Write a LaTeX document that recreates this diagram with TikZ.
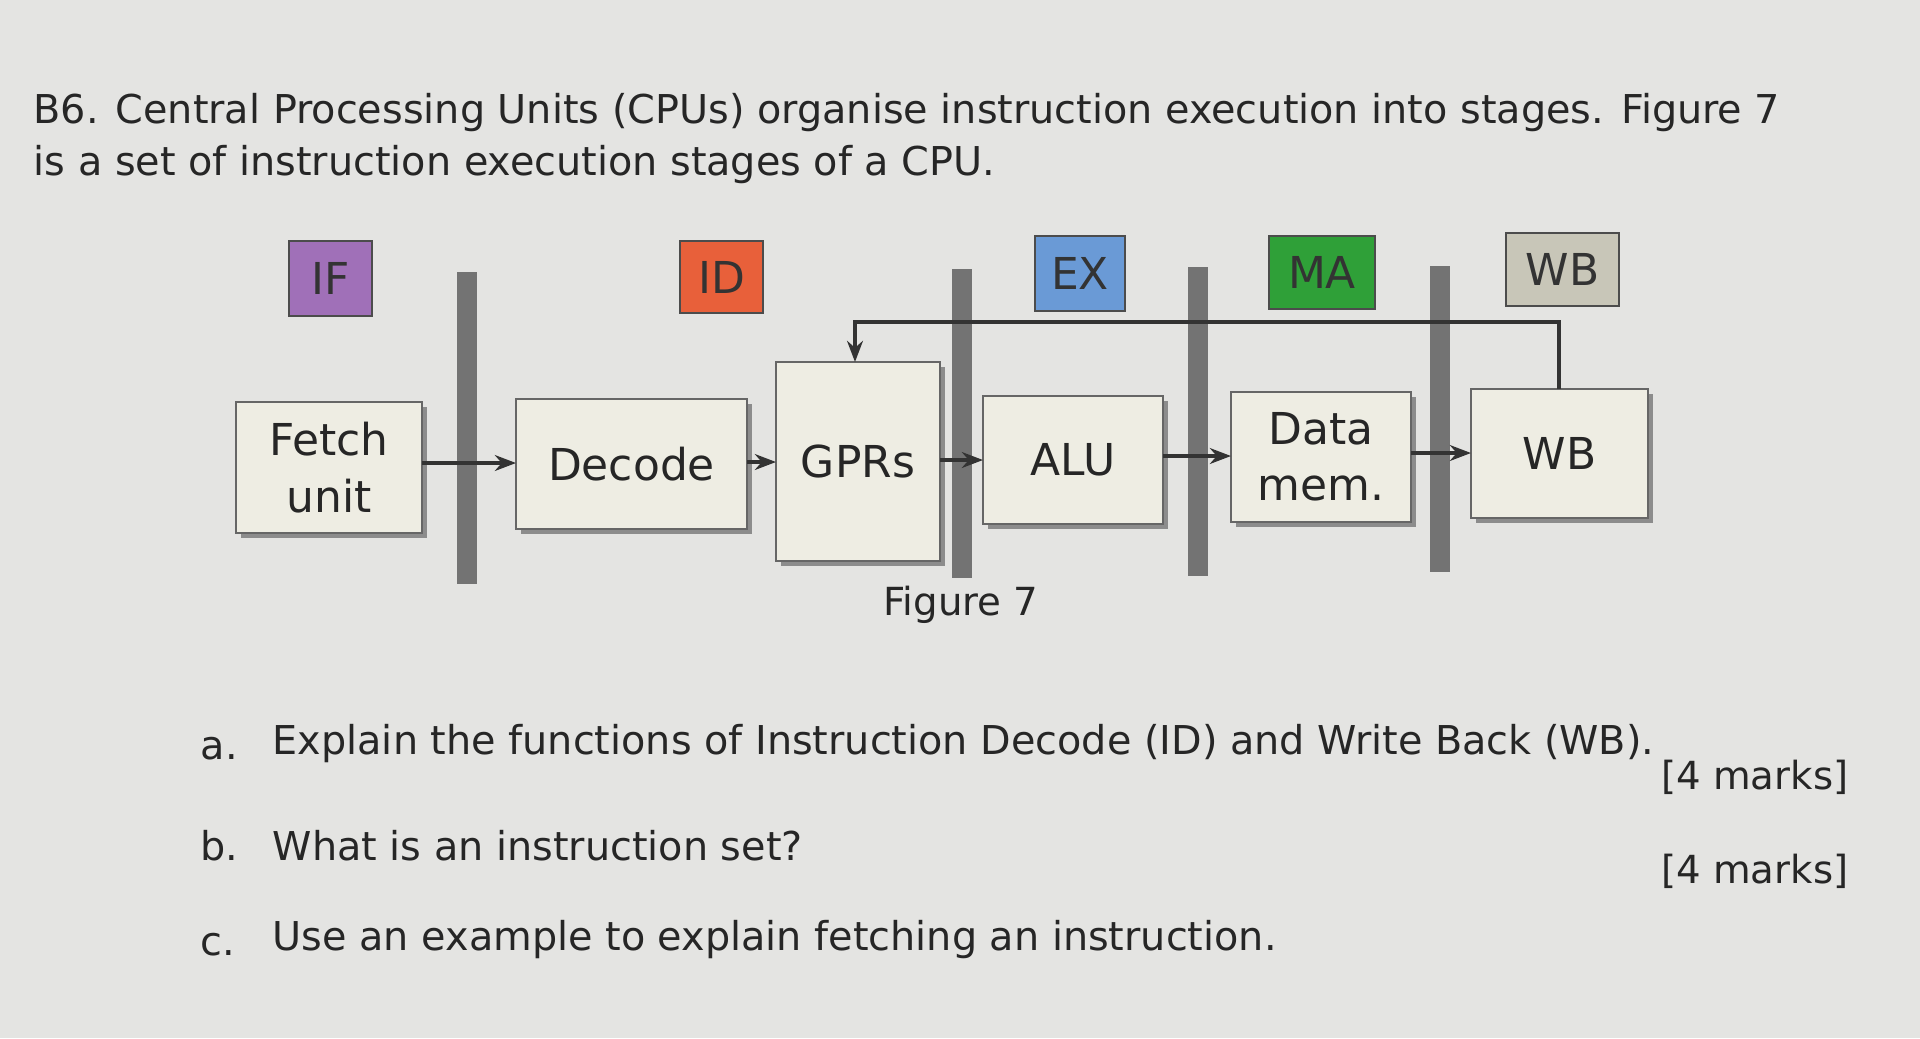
\documentclass[tikz,border=0pt]{standalone}
\usepackage{fontspec}
\setmainfont{DejaVu Sans}
\usetikzlibrary{arrows.meta}
\definecolor{bg}{HTML}{E4E4E2}
\definecolor{boxf}{HTML}{EEEDE3}
\definecolor{cIF}{HTML}{A070B8}
\definecolor{cID}{HTML}{E8603A}
\definecolor{cEX}{HTML}{6A9AD6}
\definecolor{cMA}{HTML}{2FA038}
\definecolor{cWB}{HTML}{C8C6B8}
\tikzset{
 tag/.style={inner sep=0pt,font=\fontsize{12.5}{15}\selectfont,text=black!80},
 unit/.style={inner sep=0pt,align=center,font=\fontsize{12.5}{16}\selectfont,text=black!85},
 shadow/.style={fill=black!45},
 bar/.style={fill=black!55},
 arr/.style={-{Stealth[length=6pt]},line width=1.2pt,black!80},
 txt/.style={anchor=west,inner sep=0pt,font=\fontsize{11.3}{14}\selectfont,text=black!85},
}
\begin{document}
\begin{tikzpicture}[x=0.01cm,y=-0.01cm]
\useasboundingbox (0,0) rectangle (1920,1038);
\fill[bg] (0,0) rectangle (1920,1038);
\node[txt] (l1) at (33,113) {B6. Central Processing Units (CPUs) organise instruction execution into stages. Figure 7};
\node[txt] (l2) at (33,165) {is a set of instruction execution stages of a CPU.};
% tags
\foreach \n/\c/\xa/\ya/\xb/\yb/\t in {tIF/cIF/289/241/372/316/IF,tID/cID/680/241/763/313/ID,tEX/cEX/1035/236/1125/311/EX,tMA/cMA/1269/236/1375/309/MA,tWB/cWB/1506/233/1619/306/WB}{
 \draw[black!70,line width=0.8pt,fill=\c] (\xa,\ya) rectangle (\xb,\yb);
 \node[tag] (\n) at ({(\xa+\xb)/2},{(\ya+\yb)/2}) {\t};
}
% bars
\foreach \x/\ya/\yb in {467/272/584,962/269/578,1198/267/576,1440/266/572}{
 \fill[bar] (\x-10,\ya) rectangle (\x+10,\yb);
}
% units
\foreach \n/\xa/\ya/\xb/\yb/\t in {fetch/236/402/422/533/{Fetch\\unit},dec/516/399/747/529/Decode,gpr/776/362/940/561/GPRs,alu/983/396/1163/524/ALU,dm/1231/392/1411/522/{Data\\mem.},wb/1471/389/1648/518/WB}{
 \fill[shadow] (\xa+5,\ya+5) rectangle (\xb+5,\yb+5);
 \draw[black!60,line width=0.8pt,fill=boxf] (\xa,\ya) rectangle (\xb,\yb);
 \node[unit] (\n) at ({(\xa+\xb)/2},{(\ya+\yb)/2}) {\t};
}
\draw[arr] (422,463) -- (516,463);
\draw[arr] (747,462) -- (776,462);
\draw[arr] (940,460) -- (983,460);
\draw[arr] (1163,456) -- (1231,456);
\draw[arr] (1411,453) -- (1471,453);
\coordinate (w1) at (1559,389); \coordinate (w2) at (1559,322);
\coordinate (w3) at (855,322); \coordinate (w4) at (855,362);
\draw[arr,line width=1.4pt] (w1) -- (w2) -- (w3) -- (w4);
\node[font=\fontsize{11}{13}\selectfont,text=black!85] (fig) at (961,605) {Figure 7};
\node[txt] (a1) at (200,749) {a.}; \node[txt] (a2) at (272,744) {Explain the functions of Instruction Decode (ID) and Write Back (WB).};
\node[txt,anchor=east,font=\fontsize{11}{13}\selectfont] (m1) at (1849,777) {[4 marks]};
\node[txt] (b1) at (200,846) {b.}; \node[txt] (b2) at (272,846) {What is an instruction set?};
\node[txt,anchor=east,font=\fontsize{11}{13}\selectfont] (m2) at (1849,871) {[4 marks]};
\node[txt] (c1) at (200,945) {c.}; \node[txt] (c2) at (272,940) {Use an example to explain fetching an instruction.};
\end{tikzpicture}
\end{document}
